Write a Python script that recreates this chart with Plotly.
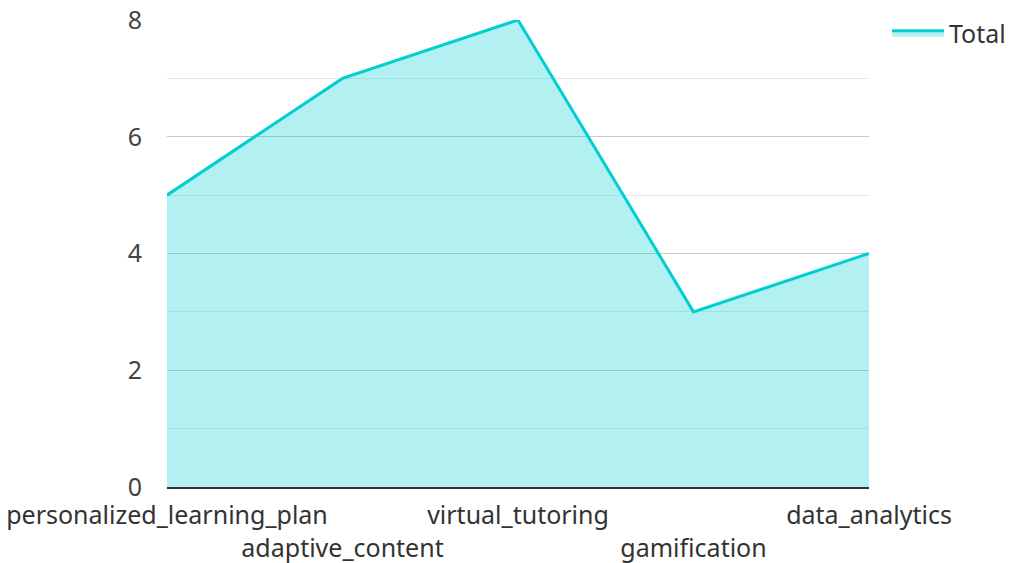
import plotly.graph_objects as go

categories = ["personalized_learning_plan", "adaptive_content", "virtual_tutoring", "gamification", "data_analytics"]
totals = [5, 7, 8, 3, 4]
tick_labels = ["personalized_learning_plan", "<br>adaptive_content", "virtual_tutoring", "<br>gamification", "data_analytics"]
y_ticks = [0, 2, 4, 6, 8]

fig = go.Figure()
fig.add_trace(go.Scatter(
    x=categories, y=totals, name="Total", mode="lines",
    line=dict(color="#00CED1", width=3),
    fill="tozeroy", fillcolor="rgba(0,206,209,0.3)",
))

font_family = "Noto Sans"
fig.update_layout(
    width=1010, height=563,
    margin=dict(l=167, r=141, t=20, b=76, autoexpand=False),
    paper_bgcolor="white", plot_bgcolor="white",
    font=dict(family=font_family, size=25, color="#444"),
    showlegend=True,
    legend=dict(x=1.0256, y=0.972, xanchor="left", yanchor="middle", itemwidth=52,
                font=dict(size=25, color="#333")),
)
fig.update_xaxes(
    tickmode="array", tickvals=categories, ticktext=tick_labels,
    showgrid=False, showline=True, linecolor="#333", linewidth=2,
    range=[0, 4], ticks="", tickfont=dict(color="#333"), tickangle=0, automargin=False,
    ticklabelstandoff=5, ticklabeloverflow="allow",
)
fig.update_yaxes(
    range=[0, 8], tickvals=y_ticks, showgrid=True, gridcolor="#c8c8c8", gridwidth=1,
    zeroline=False, ticks="", ticklabelstandoff=24, automargin=False,
    ticklabeloverflow="allow",
    minor=dict(dtick=1, showgrid=True, gridcolor="#e8e8e8", gridwidth=1),
)
fig.write_html("out.html", config={"displayModeBar": False},
               post_script="document.body.style.margin='0';")
